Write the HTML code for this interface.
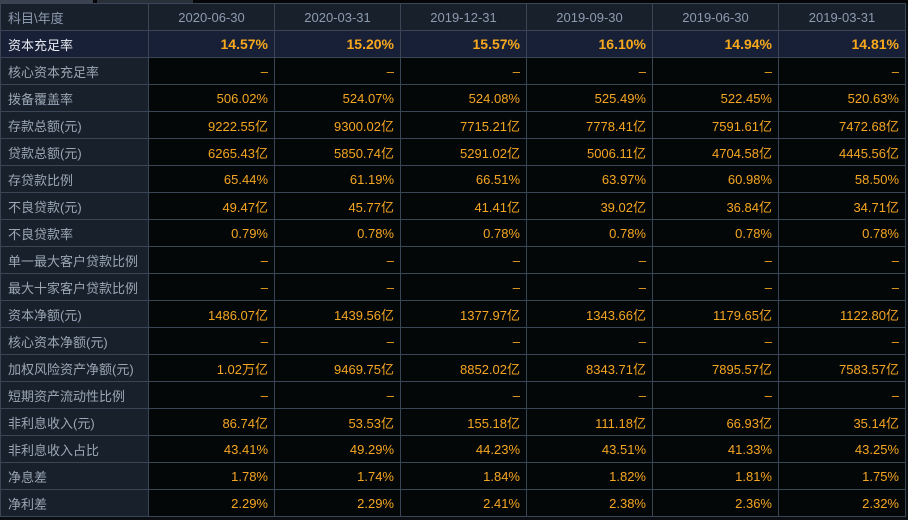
<!DOCTYPE html>
<html><head><meta charset="utf-8"><style>
body{margin:0;width:908px;height:520px;background:#0b0f14;overflow:hidden;font-family:"Liberation Sans","Noto Sans CJK SC",sans-serif;}
.top{position:absolute;left:0;top:0;width:908px;height:4px;background:#050608}
.t1{position:absolute;left:0;top:0;width:93px;height:3px;background:#3c4350}
.t2{position:absolute;left:97px;top:0;width:96px;height:3px;background:#2a3039}
table{position:absolute;left:0;top:3px;border-collapse:collapse;table-layout:fixed;width:905px}
td{border:1px solid #3a4556;height:26px;padding:0 6px;font-size:13px;color:#f5a623;text-align:right;background:#040707;white-space:nowrap}
td.l{text-align:left;color:#9aa6b4;background:#18202b;padding-left:7px}
tr.h td{background:#18202b;color:#8d9bb0;text-align:center;padding:0}
tr.h td.l{text-align:left;padding-left:7px}
tr.s td{background:#182038;font-weight:bold;font-size:14px;color:#f7a81c}
tr.s td.l{color:#e8ecf0;font-weight:normal;font-size:13px}
</style></head><body>
<div class="top"></div><div class="t1"></div><div class="t2"></div>
<table>
<colgroup><col style="width:148px"><col style="width:126px"><col style="width:126px"><col style="width:126px"><col style="width:126px"><col style="width:126px"><col style="width:127px"></colgroup>
<tr class="h"><td class="l">科目\年度</td><td>2020-06-30</td><td>2020-03-31</td><td>2019-12-31</td><td>2019-09-30</td><td>2019-06-30</td><td>2019-03-31</td></tr>
<tr class="s"><td class="l">资本充足率</td><td>14.57%</td><td>15.20%</td><td>15.57%</td><td>16.10%</td><td>14.94%</td><td>14.81%</td></tr>
<tr><td class="l">核心资本充足率</td><td>–</td><td>–</td><td>–</td><td>–</td><td>–</td><td>–</td></tr>
<tr><td class="l">拨备覆盖率</td><td>506.02%</td><td>524.07%</td><td>524.08%</td><td>525.49%</td><td>522.45%</td><td>520.63%</td></tr>
<tr><td class="l">存款总额(元)</td><td>9222.55亿</td><td>9300.02亿</td><td>7715.21亿</td><td>7778.41亿</td><td>7591.61亿</td><td>7472.68亿</td></tr>
<tr><td class="l">贷款总额(元)</td><td>6265.43亿</td><td>5850.74亿</td><td>5291.02亿</td><td>5006.11亿</td><td>4704.58亿</td><td>4445.56亿</td></tr>
<tr><td class="l">存贷款比例</td><td>65.44%</td><td>61.19%</td><td>66.51%</td><td>63.97%</td><td>60.98%</td><td>58.50%</td></tr>
<tr><td class="l">不良贷款(元)</td><td>49.47亿</td><td>45.77亿</td><td>41.41亿</td><td>39.02亿</td><td>36.84亿</td><td>34.71亿</td></tr>
<tr><td class="l">不良贷款率</td><td>0.79%</td><td>0.78%</td><td>0.78%</td><td>0.78%</td><td>0.78%</td><td>0.78%</td></tr>
<tr><td class="l">单一最大客户贷款比例</td><td>–</td><td>–</td><td>–</td><td>–</td><td>–</td><td>–</td></tr>
<tr><td class="l">最大十家客户贷款比例</td><td>–</td><td>–</td><td>–</td><td>–</td><td>–</td><td>–</td></tr>
<tr><td class="l">资本净额(元)</td><td>1486.07亿</td><td>1439.56亿</td><td>1377.97亿</td><td>1343.66亿</td><td>1179.65亿</td><td>1122.80亿</td></tr>
<tr><td class="l">核心资本净额(元)</td><td>–</td><td>–</td><td>–</td><td>–</td><td>–</td><td>–</td></tr>
<tr><td class="l">加权风险资产净额(元)</td><td>1.02万亿</td><td>9469.75亿</td><td>8852.02亿</td><td>8343.71亿</td><td>7895.57亿</td><td>7583.57亿</td></tr>
<tr><td class="l">短期资产流动性比例</td><td>–</td><td>–</td><td>–</td><td>–</td><td>–</td><td>–</td></tr>
<tr><td class="l">非利息收入(元)</td><td>86.74亿</td><td>53.53亿</td><td>155.18亿</td><td>111.18亿</td><td>66.93亿</td><td>35.14亿</td></tr>
<tr><td class="l">非利息收入占比</td><td>43.41%</td><td>49.29%</td><td>44.23%</td><td>43.51%</td><td>41.33%</td><td>43.25%</td></tr>
<tr><td class="l">净息差</td><td>1.78%</td><td>1.74%</td><td>1.84%</td><td>1.82%</td><td>1.81%</td><td>1.75%</td></tr>
<tr><td class="l">净利差</td><td>2.29%</td><td>2.29%</td><td>2.41%</td><td>2.38%</td><td>2.36%</td><td>2.32%</td></tr>
</table>
</body></html>
